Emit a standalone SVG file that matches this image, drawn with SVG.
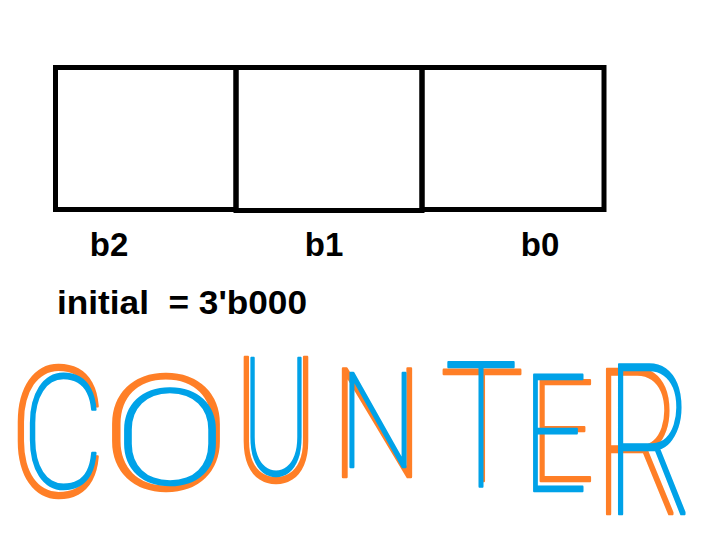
<svg xmlns="http://www.w3.org/2000/svg" width="702" height="541" viewBox="0 0 702 541">
<style>
.cell{fill:none;stroke:#000;stroke-width:5}
.lbl{font-family:"Liberation Sans",Arial,sans-serif;font-weight:bold;font-size:33px;fill:#000}
.big{font-family:Roboto,Lato,"Open Sans",sans-serif;font-weight:100;text-anchor:middle;stroke-width:2.6;stroke-linejoin:round}
.or{fill:#FF7F27;stroke:#FF7F27}
.bl{fill:#00A2E8;stroke:#00A2E8}
</style>
<rect x="0" y="0" width="702" height="541" fill="#fff"/>
<g id="cell-b2">
<rect class="cell" x="55.5" y="67.5" width="180.5" height="142"/>
<text class="lbl" x="109" y="256" text-anchor="middle">b2</text>
</g>
<g id="cell-b1">
<rect class="cell" x="236" y="67.5" width="186" height="143"/>
<text class="lbl" x="324" y="256" text-anchor="middle">b1</text>
</g>
<g id="cell-b0">
<rect class="cell" x="422" y="67.5" width="182" height="142"/>
<text class="lbl" x="540" y="256" text-anchor="middle">b0</text>
</g>
<g id="initial">
<text class="lbl" x="57" y="314" font-size="34" textLength="250" lengthAdjust="spacingAndGlyphs" style="white-space:pre">initial  = 3'b000</text>
</g>
<g id="title">
<text class="big or" x="58" y="496" font-size="181" textLength="100" lengthAdjust="spacingAndGlyphs">C</text>
<text class="big bl" x="63" y="487" font-size="157" textLength="82" lengthAdjust="spacingAndGlyphs">C</text>
<text class="big or" x="166" y="489" font-size="160" textLength="130" lengthAdjust="spacingAndGlyphs">O</text>
<text class="big bl" x="170" y="484" font-size="132" textLength="110" lengthAdjust="spacingAndGlyphs">O</text>
<text class="big or" x="276" y="481" font-size="174" textLength="86" lengthAdjust="spacingAndGlyphs">U</text>
<text class="big bl" x="276" y="474" font-size="164" textLength="68" lengthAdjust="spacingAndGlyphs">U</text>
<text class="big or" x="377" y="477" font-size="153" textLength="94" lengthAdjust="spacingAndGlyphs">N</text>
<text class="big bl" x="378" y="467" font-size="132" textLength="76" lengthAdjust="spacingAndGlyphs">N</text>
<text class="big or" x="482" y="481" font-size="156" textLength="84" lengthAdjust="spacingAndGlyphs">T</text>
<text class="big bl" x="481" y="487" font-size="175" textLength="72" lengthAdjust="spacingAndGlyphs">T</text>
<text class="big or" x="562" y="481" font-size="141" textLength="65" lengthAdjust="spacingAndGlyphs">E</text>
<text class="big bl" x="555" y="491" font-size="163" textLength="64" lengthAdjust="spacingAndGlyphs">E</text>
<text class="big or" x="638" y="514" font-size="204" textLength="88" lengthAdjust="spacingAndGlyphs">R</text>
<text class="big bl" x="650" y="514" font-size="210" textLength="88" lengthAdjust="spacingAndGlyphs">R</text>
</g>
</svg>
